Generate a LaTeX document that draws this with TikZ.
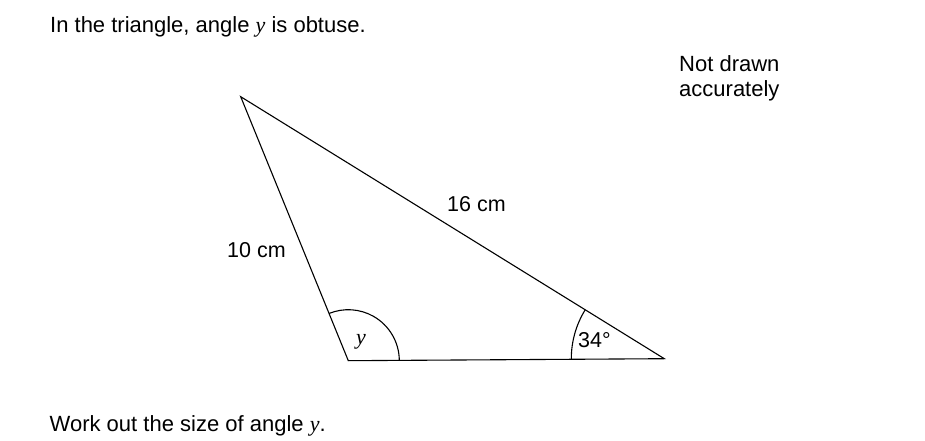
\documentclass[tikz,border=0pt]{standalone}
\usepackage{fontspec}
\setmainfont{Liberation Sans}
\newfontfamily\timesfont{Liberation Serif}
\usetikzlibrary{angles}
\newcommand{\vy}{{\timesfont\itshape y}}
\tikzset{
  txt/.style={inner sep=0pt, anchor=base west, font=\fontsize{22}{25}\selectfont},
  lbl/.style={inner sep=0pt, anchor=base west, font=\fontsize{21.5}{25}\selectfont},
  edge/.style={line width=1.1pt, line join=miter},
  arcmark/.style={draw, line width=1.1pt}
}
\begin{document}
\begin{tikzpicture}[x=1pt,y=1pt]
\useasboundingbox (0,0) rectangle (925,441);
\fill[white] (0,0) rectangle (925,441);
\coordinate (A) at (240.7,344.3);
\coordinate (B) at (348.3,80.3);
\coordinate (C) at (664.3,82.3);
\draw[edge] (A) -- (B) -- (C) -- cycle;
\pic[arcmark, angle radius=51pt] {angle = C--B--A};
\pic[arcmark, angle radius=93pt] {angle = A--C--B};
\node[txt] (title) at (50,408.7) {In the triangle, angle \vy{} is obtuse.};
\node[txt, align=left, anchor=base west] (note) at (679,344.3) {Not drawn\\accurately};
\node[lbl] (l16) at (447,229.3) {16 cm};
\node[lbl] (l10) at (227,183.3) {10 cm};
\node[lbl] (l34) at (578,93.3) {34°};
\node[txt] (ly) at (356,96) {\vy};
\node[txt] (task) at (49.5,9.3) {Work out the size of angle \vy.};
\end{tikzpicture}
\end{document}
